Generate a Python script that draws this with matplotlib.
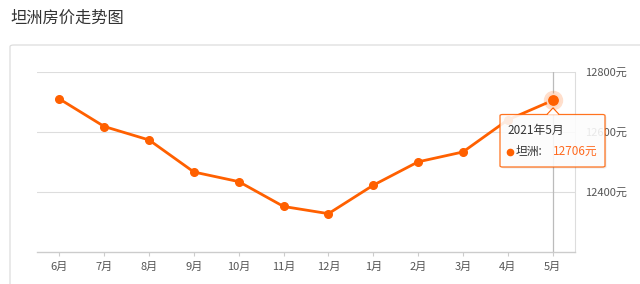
import matplotlib
matplotlib.use("Agg")
import matplotlib.pyplot as plt
from matplotlib.patches import FancyBboxPatch, Polygon
from matplotlib.lines import Line2D

plt.rcParams['font.family'] = ['Noto Sans CJK SC', 'DejaVu Sans']

title = "坦洲房价走势图"
months = ["6月", "7月", "8月", "9月", "10月", "11月", "12月", "1月", "2月", "3月", "4月", "5月"]
prices = [12711, 12619, 12574, 12467, 12435, 12352, 12328, 12423, 12501, 12534, 12641, 12706]
yticks = [12400, 12600, 12800]
series_name = "坦洲"
tooltip_title = "2021年5月"

ORANGE = '#ff6000'
W, H = 640, 284
fig = plt.figure(figsize=(W / 100, H / 100), dpi=100)

def fx(px):
    return px / W

def fy(py):
    return 1 - py / H

# card border
card = FancyBboxPatch((fx(10), fy(300)), fx(700), fy(45) - fy(300),
                      boxstyle="round,pad=0,rounding_size=0.006",
                      transform=fig.transFigure, facecolor='none',
                      edgecolor='#dddddd', linewidth=0.9, zorder=-5)
fig.patches.append(card)

fig.text(fx(10), fy(18), title, fontsize=11.7, color='#333333', va='center', ha='left')

ax = fig.add_axes([fx(37), fy(252), fx(575) - fx(37), fy(72.3) - fy(252)])
ax.set_facecolor('none')
x = list(range(len(months)))
ax.set_xlim(-0.5, len(months) - 0.5)
ax.set_ylim(12200, 12800)

for s in ['top', 'left']:
    ax.spines[s].set_visible(False)
ax.spines['bottom'].set_color('#cccccc')
ax.spines['bottom'].set_linewidth(1.0)
ax.spines['right'].set_color('#dddddd')
ax.spines['right'].set_linewidth(0.8)

ax.set_yticks(yticks)
ax.set_yticklabels([f"{v}元" for v in yticks])
ax.yaxis.tick_right()
ax.tick_params(axis='y', length=0, pad=7, labelsize=8, labelcolor='#555555')
ax.set_xticks(x)
ax.set_xticklabels(months)
ax.tick_params(axis='x', length=3, width=0.8, color='#cccccc', pad=4,
               labelsize=8, labelcolor='#555555')
for v in yticks:
    ax.axhline(v, color='#dddddd', linewidth=0.8, zorder=1)

# axis pointer
ax.axvline(x[-1], color='#bbbbbb', linewidth=0.9, zorder=1)

ax.plot(x, prices, color=ORANGE, linewidth=2.0, marker='o', markersize=5.5,
        markerfacecolor=ORANGE, markeredgecolor=ORANGE, zorder=3, clip_on=False)
# highlighted last point
ax.plot([x[-1]], [prices[-1]], marker='o', markersize=14, color=ORANGE, alpha=0.2,
        markeredgewidth=0, zorder=4, clip_on=False)
ax.plot([x[-1]], [prices[-1]], marker='o', markersize=9, color=ORANGE,
        markeredgecolor='#ffd9c2', markeredgewidth=1.2, zorder=5, clip_on=False)

# tooltip
x0, x1, y0, y1 = 500, 605, 114.5, 167
shadow = FancyBboxPatch((fx(x0 + 1.5), fy(y1 + 1.5)), fx(x1) - fx(x0), fy(y0) - fy(y1),
                        boxstyle="round,pad=0,rounding_size=0.004",
                        transform=fig.transFigure, facecolor='#000000', alpha=0.08,
                        edgecolor='none', zorder=9)
fig.patches.append(shadow)
tip = FancyBboxPatch((fx(x0), fy(y1)), fx(x1) - fx(x0), fy(y0) - fy(y1),
                     boxstyle="round,pad=0,rounding_size=0.004",
                     transform=fig.transFigure, facecolor='white', alpha=0.88,
                     edgecolor=ORANGE, linewidth=0.9, zorder=10)
fig.patches.append(tip)
notch = Polygon([[fx(547), fy(y0)], [fx(553), fy(108)], [fx(559), fy(y0)]],
                closed=False, transform=fig.transFigure, facecolor='white',
                edgecolor=ORANGE, linewidth=0.9, zorder=11)
fig.patches.append(notch)
fig.patches.append(Polygon([[fx(547.8), fy(y0)], [fx(553), fy(109.2)], [fx(558.2), fy(y0)]],
                           closed=True, transform=fig.transFigure, facecolor='white',
                           edgecolor='none', zorder=12))
fig.text(fx(507), fy(130), tooltip_title, fontsize=8.5, color='#333333',
         va='center', ha='left', zorder=13)
fig.lines.append(Line2D([fx(509.5)], [fy(151.5)], marker='o', markersize=4.5, color=ORANGE,
                        transform=fig.transFigure, zorder=13))
fig.text(fx(516), fy(151), f"{series_name}:", fontsize=8.5, color='#333333',
         va='center', ha='left', zorder=13)
fig.text(fx(553), fy(151), f"{prices[-1]}元", fontsize=8.5, color='#ff6a1f',
         va='center', ha='left', zorder=13)

fig.savefig("out.png", dpi=100)
